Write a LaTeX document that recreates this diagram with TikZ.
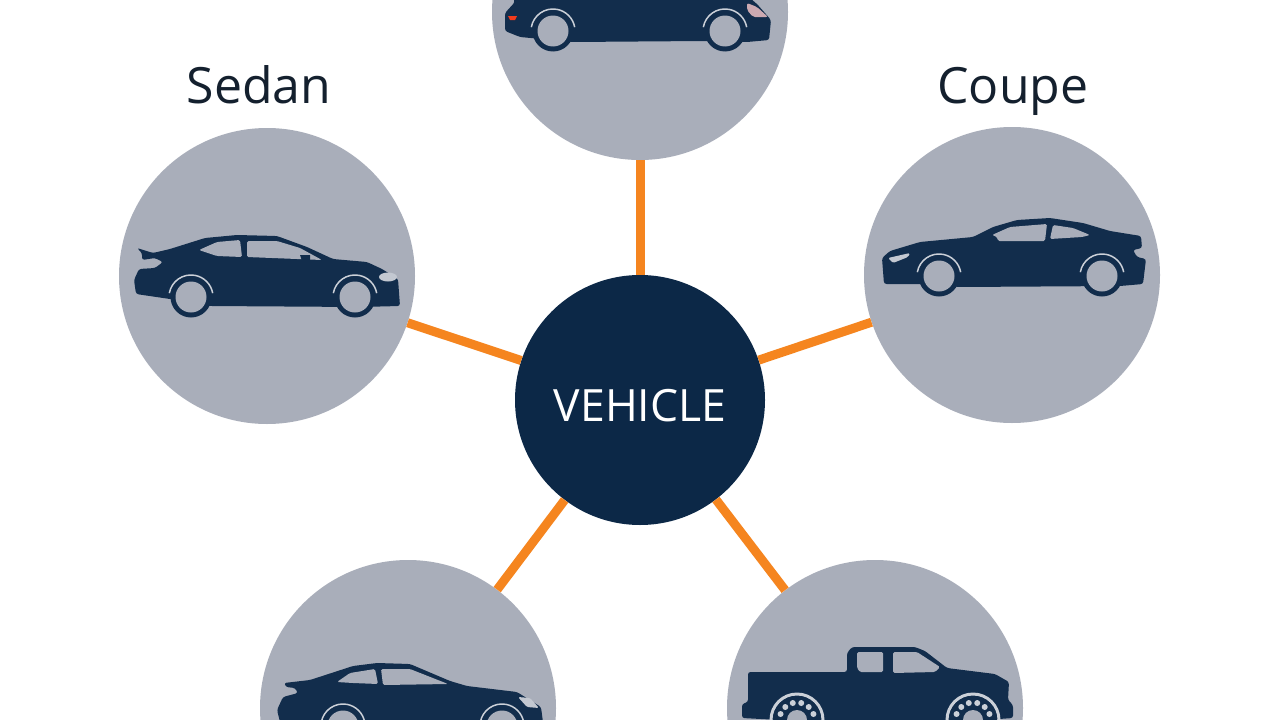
\documentclass[tikz,border=0pt]{standalone}
\usepackage{fontspec}
\setmainfont{Open Sans}
\definecolor{disc}{HTML}{A9AEBA}
\definecolor{navy}{HTML}{0C2847}
\definecolor{carblue}{HTML}{122D4C}
\definecolor{link}{HTML}{F5851F}
\definecolor{ink}{HTML}{14202E}
\definecolor{archgrey}{HTML}{CBD0D8}
\definecolor{lamp}{HTML}{C3C8D1}
\tikzset{
  x=1pt,y=-1pt,
  catdisc/.style={circle,fill=disc,minimum size=296pt,inner sep=0pt},
  hub/.style={circle,fill=navy,text=white,minimum size=250pt,inner sep=0pt,text height=42pt,text depth=0pt,font=\fontsize{44.5}{46}\selectfont},
  catlabel/.style={text=ink,font=\fontsize{50}{52}\selectfont,inner sep=0pt,anchor=base},
  spoke/.style={draw=link,line width=9pt},
  body/.style={fill=carblue,rounded corners=2.5pt},
  glass/.style={fill=disc,rounded corners=1.5pt},
  wheel/.pic={
    \draw[archgrey,line width=1.5pt] (190:22) arc (190:350:22);
    \fill[carblue] (0,0) circle[radius=20.5];
    \fill[disc] (0,0) circle[radius=15.5];
  },
  bigwheel/.pic={
    \draw[archgrey,line width=3pt] (180:26) arc (180:360:26);
    \fill[carblue] (0,0) circle[radius=24];
    \foreach \a in {200,228,256,284,312,340} \fill[archgrey] (\a:17.5) circle[radius=3];
    \fill[disc] (0,0) circle[radius=10];
  }
}
\begin{document}
\begin{tikzpicture}
\useasboundingbox (0,0) rectangle (1280,720);
\clip (0,0) rectangle (1280,720);
\fill[white] (0,0) rectangle (1280,720);
% nodes
\node[catdisc] (top) at (640,12) {};
\node[catdisc] (sedan) at (267,276) {};
\node[catdisc] (coupe) at (1012,275) {};
\node[catdisc] (bl) at (408,708) {};
\node[catdisc] (br) at (875,708) {};
\node[hub] (vehicle) at (640,400) {VEHICLE};
\node[catlabel] (sedanlabel) at (259,103) {Sedan};
\node[catlabel] (coupelabel) at (1013,103) {Coupe};
% connectors
\draw[spoke] (vehicle) -- (top);
\draw[spoke] (vehicle) -- (sedan);
\draw[spoke] (vehicle) -- (coupe);
\draw[spoke] (vehicle) -- (bl);
\draw[spoke] (vehicle) -- (br);
% top car
\fill[body] (512,-6) -- (515,2) -- (505,13) -- (505,31) -- (520,37) -- (573,42) -- (703,41) -- (747,42) -- (769,40) -- (771,20) -- (757,4) -- (745,-6) -- cycle;
\fill[fill=lamp!85!red,rounded corners=2pt] (747,3) -- (757,7) -- (768,17) -- (753,17) -- (747,10) -- cycle;
\fill[red!70!orange!85!disc] (508,16) -- (517,16) -- (515,20) -- (510,20) -- cycle;
\pic at (553,31) {wheel};
\pic at (725,31) {wheel};
% sedan car
\fill[body] (137,248) -- (153,253) -- (170,249) -- (205,238) -- (237,235) -- (277,236) -- (307,247) -- (333,259) -- (367,262) -- (382,269) -- (398,279) -- (400,306) -- (360,307) -- (210,306) -- (170,299) -- (136,294) -- (134,280) -- (139,269) -- (155,268) -- (163,262) -- (155,258) -- (142,260) -- (142,253) -- cycle;
\fill[glass] (199,250) -- (217,242) -- (240,240) -- (242,257) -- (217,256) -- cycle;
\fill[glass] (247,241) -- (277,241) -- (300,248) -- (322,260) -- (247,257) -- cycle;
\fill[carblue] (300,255) -- (310,255) -- (310,261) -- (302,261) -- cycle;
\fill[lamp] (388,277) ellipse[x radius=9,y radius=4.5];
\pic at (191,297) {wheel};
\pic at (355,297) {wheel};
% coupe car
\fill[body] (882,258) -- (890,251) -- (920,242) -- (973,237) -- (993,227) -- (1017,220) -- (1050,218) -- (1083,223) -- (1110,231) -- (1141,236) -- (1142,248) -- (1133,250) -- (1137,257) -- (1146,259) -- (1143,284) -- (1120,286) -- (960,287) -- (920,284) -- (884,284) -- cycle;
\fill[glass] (992,235) -- (1010,227) -- (1047,224) -- (1045,241) -- (998,241) -- (997,237) -- cycle;
\fill[glass] (1053,225) -- (1073,228) -- (1090,235) -- (1082,237) -- (1050,239) -- cycle;
\fill[lamp,rounded corners=1.5pt] (888,258) -- (910,253) -- (908,257) -- (893,263) -- cycle;
\pic at (939,276) {wheel};
\pic at (1102,276) {wheel};
% bottom-left car
\fill[body] (284,683) -- (310,680) -- (353,666) -- (377,663) -- (410,664) -- (450,681) -- (467,686) -- (517,692) -- (541,707) -- (544,730) -- (282,730) -- (277,710) -- (283,697) -- (298,693) -- (295,688) -- (286,687) -- cycle;
\fill[glass] (337,682) -- (350,673) -- (375,669) -- (378,684) -- (353,683) -- cycle;
\fill[glass] (381,669) -- (410,669) -- (448,684) -- (383,685) -- cycle;
\fill[lamp,rounded corners=1.5pt] (518,697) -- (530,698) -- (539,708) -- (527,707) -- cycle;
\pic at (343,726) {wheel};
\pic at (502,726) {wheel};
% truck
\fill[body] (748,672) -- (847,672) -- (847,653) -- (852,647) -- (915,647) -- (925,651) -- (947,668) -- (995,674) -- (1009,682) -- (1008,700) -- (1013,705) -- (1013,718) -- (985,720) -- (780,720) -- (742,718) -- (742,704) -- (748,702) -- cycle;
\fill[glass] (857,652) -- (883,652) -- (883,672) -- (860,672) -- (857,668) -- cycle;
\fill[glass] (893,652) -- (917,652) -- (940,667) -- (935,672) -- (893,673) -- cycle;
\pic at (797,720) {bigwheel};
\pic at (973,720) {bigwheel};
\end{tikzpicture}
\end{document}
